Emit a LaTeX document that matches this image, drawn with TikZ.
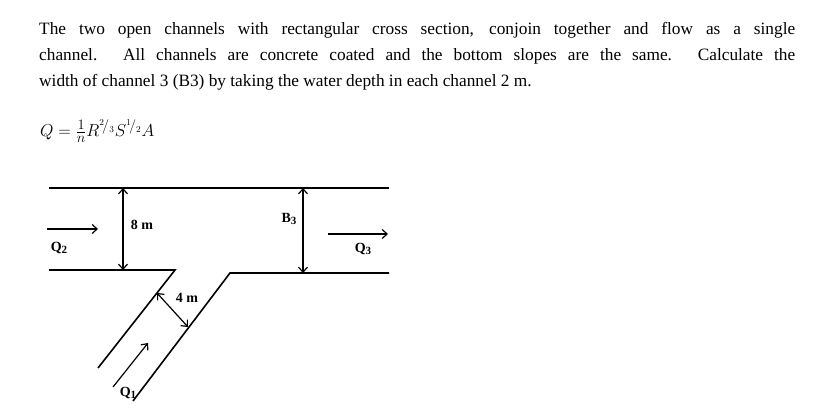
\documentclass[tikz,border=0pt]{standalone}
\usepackage{fontspec}
\setmainfont{Liberation Serif}
\usetikzlibrary{arrows.meta}
\newcommand{\mysub}[1]{\raisebox{-0.35ex}{\fontsize{11}{12}\selectfont #1}}
\begin{document}
\begin{tikzpicture}[x=1pt,y=-1pt,
  wall/.style={line width=1.6pt},
  dim/.style={line width=1.2pt,{Straight Barb[length=5pt,width=9pt]}-{Straight Barb[length=5pt,width=9pt]}},
  flow/.style={line width=1.2pt,-{Straight Barb[length=5pt,width=9pt]}},
  lab/.style={font=\fontsize{14}{16}\bfseries\selectfont, inner sep=0pt}]
\useasboundingbox (0,0) rectangle (825,417);
\node[anchor=north west, text width=756pt, align=justify, inner sep=0pt, font=\fontsize{17.3}{26}\selectfont] (txt) at (39,22)
{The two open channels with rectangular cross section, conjoin together and flow as a single\linebreak channel. All channels are concrete coated and the bottom slopes are the same. Calculate the\linebreak width of channel 3 (B3) by taking the water depth in each channel 2~m.};
\node[anchor=west, inner sep=0pt, font=\fontsize{19}{22}\selectfont] (eq) at (40,131) {$Q=\frac{1}{n}R^{{}^2\!/_3}S^{{}^1\!/_2}A$};
% channel walls
\coordinate (tl) at (49,188); \coordinate (tr) at (389,188);
\coordinate (bl) at (49,270); \coordinate (lc) at (175,270);
\coordinate (ld) at (98,368);
\coordinate (rc) at (230,273); \coordinate (br) at (389,273);
\coordinate (rd) at (133,401);
\draw[wall] (tl) -- (tr);
\draw[wall] (bl) -- (lc) -- (ld);
\draw[wall] (br) -- (rc) -- (rd);
% dimensions
\coordinate (d8a) at (123,188); \coordinate (d8b) at (123,270);
\draw[dim] (d8a) -- (d8b);
\node[lab] (l8) at (142,225) {8 m};
\coordinate (dba) at (303,188); \coordinate (dbb) at (303,273);
\draw[dim] (dba) -- (dbb);
\node[lab] (lb) at (289,219) {B\mysub{3}};
\coordinate (d4a) at (157,293); \coordinate (d4b) at (188,327);
\draw[dim] (d4a) -- (d4b);
\node[lab] (l4) at (187,298) {4 m};
% flows
\coordinate (q2a) at (47,229); \coordinate (q2b) at (98,229);
\draw[flow] (q2a) -- (q2b);
\node[lab] (lq2) at (59,248) {Q\mysub{2}};
\coordinate (q3a) at (328,234); \coordinate (q3b) at (388,234);
\draw[flow] (q3a) -- (q3b);
\node[lab] (lq3) at (363,249) {Q\mysub{3}};
\coordinate (q1a) at (113,387); \coordinate (q1b) at (148,343);
\draw[flow] (q1a) -- (q1b);
\node[lab] (lq1) at (128,393) {Q\mysub{1}};
\end{tikzpicture}
\end{document}
